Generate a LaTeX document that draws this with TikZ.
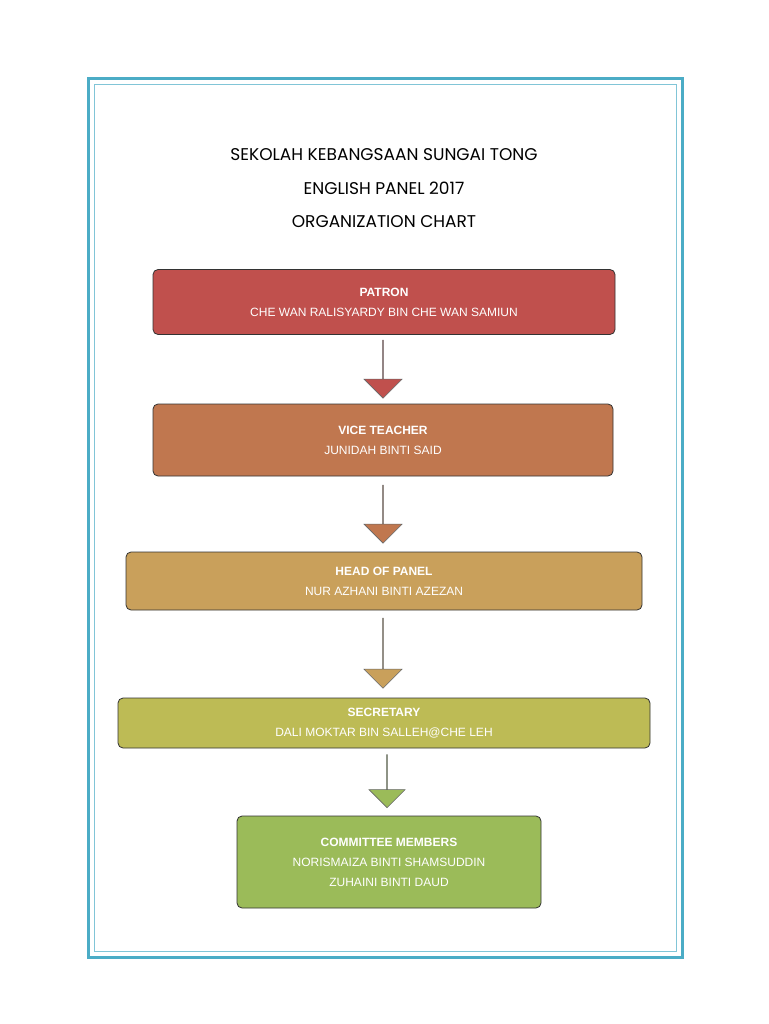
\documentclass[tikz,border=0pt]{standalone}
\usepackage{fontspec}
\setmainfont{Liberation Sans}
\newfontfamily\titlefont{Poppins}
\usetikzlibrary{shapes.arrows,calc}
\definecolor{cred}{HTML}{C0504D}
\definecolor{corange}{HTML}{C0774F}
\definecolor{ctan}{HTML}{C9A05B}
\definecolor{colive}{HTML}{BDBB55}
\definecolor{cgreen}{HTML}{9BBB59}
\definecolor{cframe}{HTML}{4BACC6}
\tikzset{
 box/.style={draw=black!80, line width=0.8pt, rounded corners=5pt, text=white, align=center, font=\fontsize{12}{20}\selectfont, inner sep=0pt},
 arr/.style={single arrow, draw=black!60, line width=0.6pt, shape border rotate=270, minimum width=70pt, single arrow head extend=16pt, inner sep=0pt},
}
\begin{document}
\begin{tikzpicture}[x=1pt,y=-1pt]
\useasboundingbox (0,0) rectangle (768,1024);
\fill[white] (0,0) rectangle (768,1024);
\draw[cframe, line width=3pt] (88,79) rectangle (682,957);
\draw[cframe!70, line width=1pt] (94,85) rectangle (676,951);
\node[font=\titlefont\fontsize{17}{20}\selectfont] (t1) at (384,155) {SEKOLAH KEBANGSAAN SUNGAI TONG};
\node[font=\titlefont\fontsize{17}{20}\selectfont] (t2) at (384,188) {ENGLISH PANEL 2017};
\node[font=\titlefont\fontsize{17}{20}\selectfont] (t3) at (384,222) {ORGANIZATION CHART};
\node[box, fill=cred, minimum width=462pt, minimum height=65pt] (p) at (384,302) {\textbf{PATRON}\\CHE WAN RALISYARDY BIN CHE WAN SAMIUN};
\node[box, fill=corange, minimum width=460pt, minimum height=72pt] (v) at (383,440) {\textbf{VICE TEACHER}\\JUNIDAH BINTI SAID};
\node[box, fill=ctan, minimum width=516pt, minimum height=58pt] (h) at (384,581) {\textbf{HEAD OF PANEL}\\NUR AZHANI BINTI AZEZAN};
\node[box, fill=colive, minimum width=532pt, minimum height=50pt] (s) at (384,723) {\textbf{SECRETARY}\\DALI MOKTAR BIN SALLEH@CHE LEH};
\node[box, fill=cgreen, minimum width=304pt, minimum height=92pt] (c) at (389,862) {\textbf{COMMITTEE MEMBERS}\\NORISMAIZA BINTI SHAMSUDDIN\\ZUHAINI BINTI DAUD};
\node[arr, fill=cred, minimum height=58pt, minimum width=38pt] (a1) at (383,369) {};
\node[arr, fill=corange, minimum height=58pt, minimum width=38pt] (a2) at (383,514) {};
\node[arr, fill=ctan, minimum height=70pt, minimum width=38pt] (a3) at (383,653) {};
\node[arr, fill=cgreen, minimum height=53pt, minimum width=36pt] (a4) at (387,781) {};
\end{tikzpicture}
\end{document}
